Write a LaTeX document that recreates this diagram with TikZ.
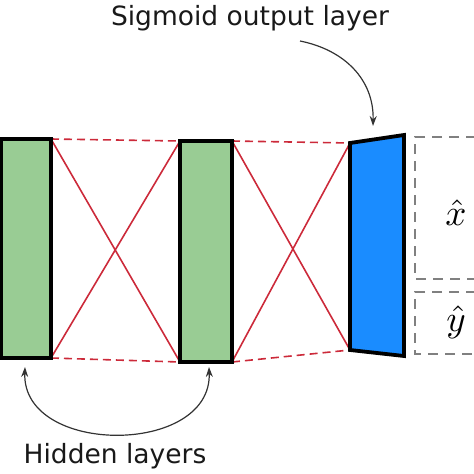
\documentclass[tikz,border=0pt]{standalone}
\usepackage{fontspec}
\setmainfont{DejaVu Sans}
\usetikzlibrary{arrows.meta}
\definecolor{lgreen}{HTML}{99CC94}
\definecolor{lblue}{HTML}{1A8CFF}
\definecolor{lred}{HTML}{CC2A3A}
\definecolor{dgray}{HTML}{808080}
\begin{document}
\begin{tikzpicture}[x=1pt,y=-1pt,
  layer/.style={draw=black,line width=3.8pt,line join=miter},
  link/.style={draw=lred,line width=1.6pt},
  dlink/.style={link,dash pattern=on 8pt off 5pt},
  outbox/.style={draw=dgray,line width=2.6pt,dash pattern=on 10pt off 7pt},
  lbl/.style={font=\fontsize{26.5}{30}\selectfont,text=black!90,inner sep=0pt,anchor=base},
  mlbl/.style={inner sep=0pt,scale=3.7},
  arr/.style={draw=black!80,line width=1.2pt,-{Stealth[length=10pt,width=7pt]}}]
\useasboundingbox (0,0) rectangle (474,474);
% corners
\coordinate (a1) at (1,139);   \coordinate (a2) at (51,139);
\coordinate (a3) at (51,358);  \coordinate (a4) at (1,358);
\coordinate (b1) at (180,141); \coordinate (b2) at (232,141);
\coordinate (b3) at (232,362); \coordinate (b4) at (180,362);
\coordinate (c1) at (350,143); \coordinate (c2) at (404,135);
\coordinate (c3) at (404,356); \coordinate (c4) at (350,350);
% links
\draw[dlink] (a2) -- (b1);
\draw[dlink] (a3) -- (b4);
\draw[link] (a2) -- (b4);
\draw[link] (a3) -- (b1);
\draw[dlink] (b2) -- (c1);
\draw[dlink] (b3) -- (c4);
\draw[link] (b2) -- (c4);
\draw[link] (b3) -- (c1);
% layers
\filldraw[layer,fill=lgreen] (a1) -- (a2) -- (a3) -- (a4) -- cycle;
\filldraw[layer,fill=lgreen] (b1) -- (b2) -- (b3) -- (b4) -- cycle;
\filldraw[layer,fill=lblue] (c1) -- (c2) -- (c3) -- (c4) -- cycle;
% output boxes
\coordinate (x1) at (476,137); \coordinate (x2) at (415,137);
\coordinate (x3) at (415,279); \coordinate (x4) at (476,279);
\coordinate (y1) at (476,292); \coordinate (y2) at (415,292);
\coordinate (y3) at (415,354); \coordinate (y4) at (476,354);
\draw[outbox] (x1) -- (x2) -- (x3) -- (x4);
\draw[outbox] (y1) -- (y2) -- (y3) -- (y4);
\node[mlbl] (xh) at (456,213) {$\hat{x}$};
\node[mlbl] (yh) at (456,322) {$\hat{y}$};
% labels
\node[lbl] (sig) at (250,25) {Sigmoid output layer};
\node[lbl] (hid) at (115,463) {Hidden layers};
\coordinate (s0) at (300,41);
\coordinate (s1) at (373,126);
\draw[arr] (s0) .. controls (345,50) and (374,80) .. (s1);
\coordinate (h1) at (25,367);
\coordinate (h2) at (209,367);
\draw[arr,{Stealth[length=10pt,width=7pt]}-{Stealth[length=10pt,width=7pt]}] (h1) .. controls (22,456) and (212,456) .. (h2);
\end{tikzpicture}
\end{document}
